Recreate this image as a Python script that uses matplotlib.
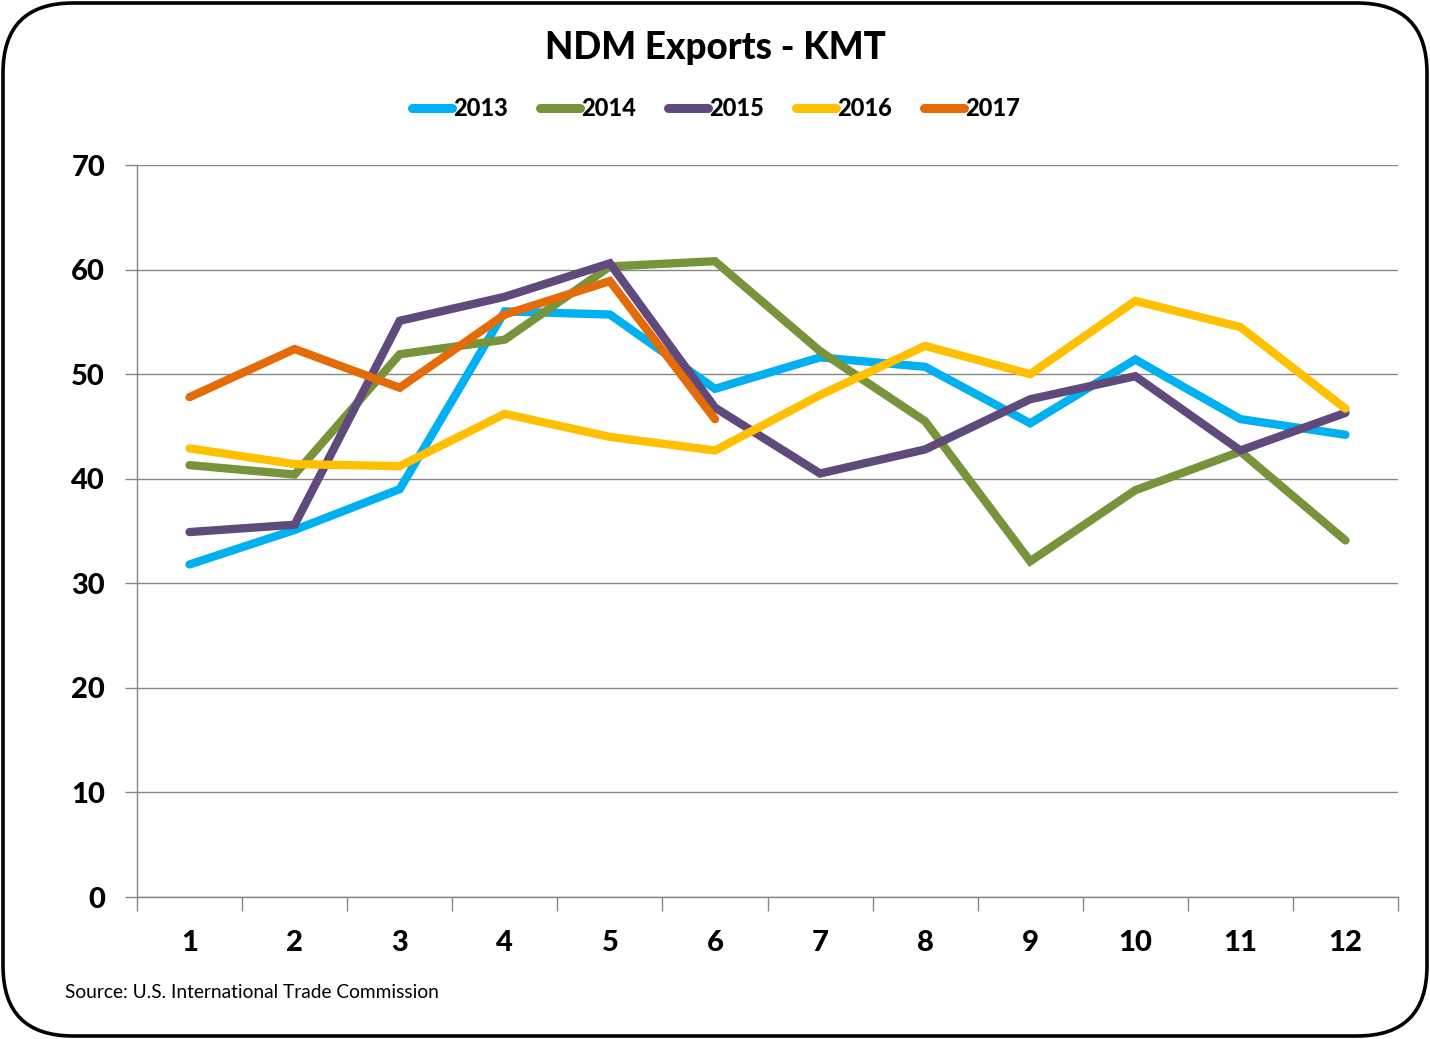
import matplotlib
matplotlib.use("Agg")
import matplotlib.pyplot as plt
from matplotlib.patches import FancyBboxPatch
import numpy as np

months = [1, 2, 3, 4, 5, 6, 7, 8, 9, 10, 11, 12]
y2013 = [31.8, 35.1, 39.0, 56.0, 55.7, 48.6, 51.6, 50.7, 45.3, 51.4, 45.7, 44.2]
y2014 = [41.3, 40.4, 51.9, 53.3, 60.3, 60.8, 52.2, 45.5, 32.1, 38.9, 42.6, 34.1]
y2015 = [34.9, 35.6, 55.1, 57.4, 60.6, 46.8, 40.5, 42.8, 47.6, 49.8, 42.7, 46.3]
y2016 = [42.9, 41.4, 41.2, 46.2, 44.0, 42.7, 48.0, 52.7, 50.0, 57.0, 54.5, 46.7]
y2017 = [47.8, 52.4, 48.7, 55.7, 58.9, 45.7]
series_names = ["2013", "2014", "2015", "2016", "2017"]
series_vals = [y2013, y2014, y2015, y2016, y2017]
colors = ["#00B0F0", "#77933C", "#604A7B", "#FFC000", "#E36C09"]
yticks = [0, 10, 20, 30, 40, 50, 60, 70]

plt.rcParams['font.family'] = ['Lato', 'DejaVu Sans']

W, H, DPI = 1430, 1039, 100
fig = plt.figure(figsize=(W / DPI, H / DPI), dpi=DPI)
fig.patch.set_facecolor("white")

# rounded border
border = FancyBboxPatch((0.03, 0.03), W / DPI - 0.06, H / DPI - 0.06,
                        boxstyle="round,pad=0,rounding_size=0.7",
                        transform=fig.dpi_scale_trans, fill=False,
                        edgecolor="black", linewidth=2.6)
fig.add_artist(border)

left, right, top, bottom = 137, 1398, 165, 897
ax = fig.add_axes([left / W, 1 - bottom / H, (right - left) / W, (bottom - top) / H])

for name, vals, c in zip(series_names, series_vals, colors):
    ax.plot(months[:len(vals)], vals, color=c, linewidth=6.0, label=name,
            solid_capstyle="round", solid_joinstyle="miter")

ax.set_xlim(0.5, 12.5)
ax.set_ylim(0, 70)
ax.set_yticks(yticks)
ax.set_yticklabels([str(v) for v in yticks], fontsize=21, fontweight="black")
ax.yaxis.grid(True, color="#868686", linewidth=1.0)
ax.set_axisbelow(True)

ax.set_xticks(np.arange(0.5, 13.0, 1.0))
ax.set_xticklabels([])
ax.set_xticks(months, minor=True)
ax.set_xticklabels([str(m) for m in months], minor=True, fontsize=21, fontweight="black")
ax.tick_params(axis="x", which="major", length=10, color="#868686", width=1)
ax.tick_params(axis="x", which="minor", length=0, pad=24)
ax.tick_params(axis="y", which="major", length=9, color="#868686", width=1, pad=14)

for s in ["top", "right"]:
    ax.spines[s].set_visible(False)
for s in ["left", "bottom"]:
    ax.spines[s].set_color("#868686")
    ax.spines[s].set_linewidth(1)

fig.text(715 / W, 1 - 48 / H, "NDM Exports - KMT", ha="center", va="center",
         fontsize=26.5, fontweight="black")

leg = fig.legend(loc="center", bbox_to_anchor=(716 / W, 1 - 109 / H), ncol=5,
                 frameon=False, prop={"size": 17, "weight": "black"},
                 handlelength=1.7, handletextpad=0.05, columnspacing=1.35)
for line in leg.get_lines():
    line.set_linewidth(6.5)
    line.set_solid_capstyle("round")

fig.text(65 / W, 1 - 993 / H, "Source: U.S. International Trade Commission",
         ha="left", va="center", fontsize=13.8)

fig.savefig("out.png", dpi=DPI)
